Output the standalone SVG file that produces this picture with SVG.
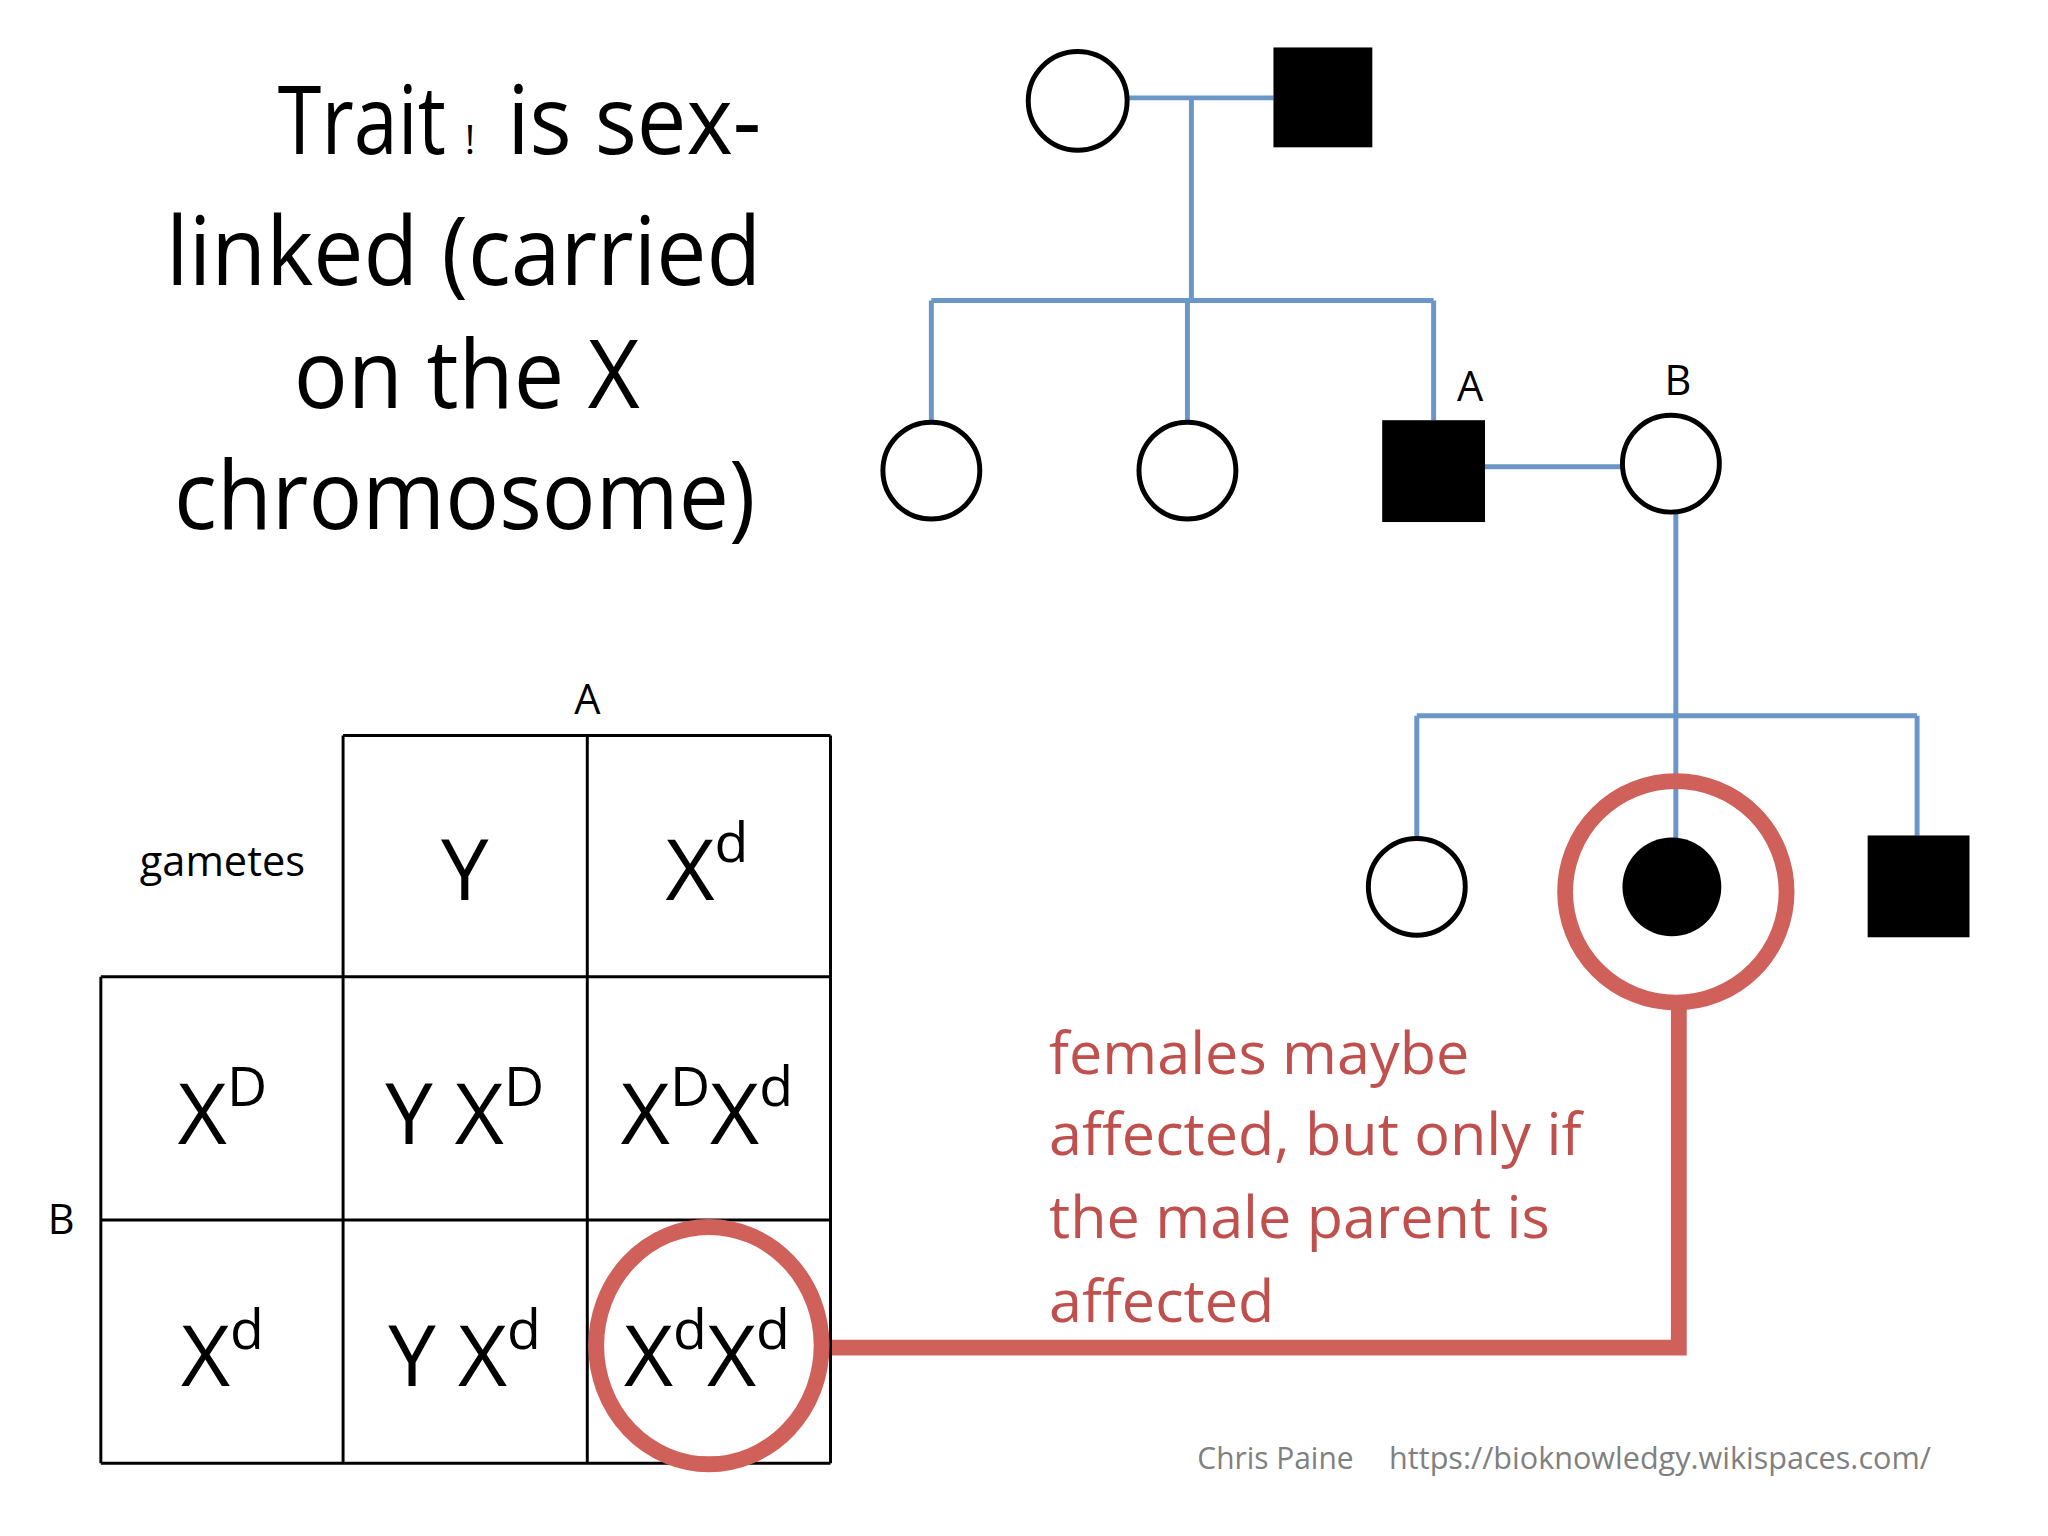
<svg xmlns="http://www.w3.org/2000/svg" width="2048" height="1536" viewBox="0 0 2048 1536">
<style>
text{font-family:"Open Sans","Noto Sans",sans-serif;fill:#000}
.t{font-size:96px}
.c{font-size:86px;text-anchor:middle}
.s{font-size:56px}
.r{font-size:60px;fill:#c0504d}
.lbl{font-size:42px;text-anchor:middle}
.blue{stroke:#6a96c8;stroke-width:5;fill:none}
.grid{stroke:#000;stroke-width:3}
.oc{fill:#fff;stroke:#000;stroke-width:5}
.red{stroke:#d0605a;fill:none;stroke-width:16}
</style>
<rect width="2048" height="1536" fill="#fff"/>
<g transform="scale(0.9887)">
<g id="title">
<text class="t" x="281" y="156" textLength="170" lengthAdjust="spacingAndGlyphs">Trait</text>
<text x="470" y="156" font-size="40">!</text>
<text class="t" x="513" y="156" textLength="257" lengthAdjust="spacingAndGlyphs">is sex-</text>
<text class="t" x="168" y="288" textLength="602" lengthAdjust="spacingAndGlyphs">linked (carried</text>
<text class="t" x="297" y="413" textLength="350" lengthAdjust="spacingAndGlyphs">on the X</text>
<text class="t" x="176" y="535" textLength="588" lengthAdjust="spacingAndGlyphs">chromosome)</text>
</g>
<g id="connectors">
<path class="blue" d="M1139 99H1288M1205 99V304M942 304H1450M942 304V428M1201 304V428M1450 304V425M1502 472H1642M1695 519V724M1433 724H1939M1433 724V849M1695 724V849M1939 724V845"/>
<path class="red" d="M1698 1017V1363H839"/>
</g>
<g id="gp-female"><circle class="oc" cx="1090" cy="102" r="50"/></g>
<g id="gp-male"><rect x="1288" y="48" width="100" height="101"/></g>
<g id="c1"><circle class="oc" cx="942" cy="476" r="49"/></g>
<g id="c2"><circle class="oc" cx="1201" cy="476" r="49"/></g>
<g id="A"><rect x="1398" y="425" width="104" height="103"/><text class="lbl" x="1487" y="406">A</text></g>
<g id="B"><circle class="oc" cx="1690" cy="469" r="49"/><text class="lbl" x="1697" y="400">B</text></g>
<g id="g1"><circle class="oc" cx="1433" cy="897" r="49"/></g>
<g id="g2"><circle cx="1691" cy="897" r="50"/><circle class="red" cx="1695" cy="902" r="112"/></g>
<g id="g3"><rect x="1889" y="845" width="103" height="103"/></g>
<g id="punnett">
<path class="grid" d="M347 744H840M102 988H840M102 1234H840M102 1480H840M102 988V1480M347 744V1480M594 744V1480M840 744V1480"/>
<text class="lbl" x="594" y="722">A</text>
<text class="lbl" x="62" y="1248">B</text>
<text x="225" y="886" font-size="42" text-anchor="middle">gametes</text>
<text class="c" x="470" y="910">Y</text>
<text class="c" x="715" y="910">X<tspan class="s" dy="-38">d</tspan></text>
<text class="c" x="225" y="1157">X<tspan class="s" dy="-38">D</tspan></text>
<text class="c" x="470" y="1157">Y X<tspan class="s" dy="-38">D</tspan></text>
<text class="c" x="715" y="1157">X<tspan class="s" dy="-38">D</tspan><tspan dy="38">X</tspan><tspan class="s" dy="-38">d</tspan></text>
<text class="c" x="225" y="1402">X<tspan class="s" dy="-38">d</tspan></text>
<text class="c" x="470" y="1402">Y X<tspan class="s" dy="-38">d</tspan></text>
<text class="c" x="715" y="1402">X<tspan class="s" dy="-38">d</tspan><tspan dy="38">X</tspan><tspan class="s" dy="-38">d</tspan></text>
<ellipse class="red" cx="717" cy="1361" rx="114" ry="120"/>
</g>
<g id="note">
<text class="r" x="1061" y="1086">females maybe</text>
<text class="r" x="1061" y="1168">affected, but only if</text>
<text class="r" x="1061" y="1252">the male parent is</text>
<text class="r" x="1061" y="1337">affected</text>
</g>
<g id="credit">
<text x="1211" y="1486" font-size="32" style="fill:#808080" textLength="158" lengthAdjust="spacingAndGlyphs">Chris Paine</text>
<text x="1405" y="1486" font-size="32" style="fill:#808080" textLength="548" lengthAdjust="spacingAndGlyphs">https://bioknowledgy.wikispaces.com/</text>
</g>
</g>
</svg>
